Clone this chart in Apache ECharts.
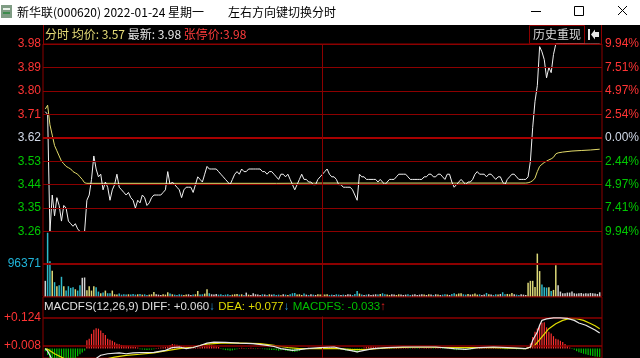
<!DOCTYPE html>
<html><head><meta charset="utf-8">
<script src="https://cdn.jsdelivr.net/npm/echarts@6/dist/echarts.min.js"></script>
<style>html,body{margin:0;padding:0;background:#000;overflow:hidden}#c{width:640px;height:358px}</style>
</head><body><div id="c"></div>
<script>
// ---------------- data ----------------
const titleText = '新华联(000620) 2022-01-24 星期一';
const hintText = '左右方向键切换分时';
const prevClose = 3.62;
const avgLast = '3.57', lastPrice = '3.98', limitUp = '3.98';
const priceTicks = [3.98, 3.89, 3.80, 3.71, 3.62, 3.53, 3.44, 3.35, 3.26];
const pctLabels = ['9.94%', '7.51%', '4.97%', '2.54%', '0.00%', '2.44%', '4.97%', '7.41%', '9.94%'];
const midMinute = 120;

// minute close price, 241 minutes (09:30 .. 15:00)
const price = [
  3.72,3.71,3.26,3.40,3.32,3.39,3.36,3.30,3.36,3.35,
  3.30,3.29,3.28,3.29,3.27,3.26,3.26,3.26,3.38,3.40,
  3.46,3.55,3.50,3.47,3.48,3.42,3.45,3.43,3.38,3.42,
  3.44,3.48,3.43,3.42,3.41,3.40,3.41,3.39,3.38,3.35,
  3.38,3.37,3.40,3.39,3.36,3.37,3.39,3.40,3.40,3.40,
  3.40,3.41,3.42,3.49,3.44,3.45,3.44,3.43,3.42,3.39,
  3.42,3.43,3.43,3.43,3.41,3.44,3.47,3.46,3.45,3.48,
  3.51,3.50,3.50,3.50,3.50,3.49,3.48,3.47,3.46,3.45,
  3.44,3.46,3.48,3.49,3.48,3.50,3.49,3.49,3.50,3.50,
  3.50,3.50,3.50,3.50,3.49,3.49,3.48,3.49,3.49,3.48,
  3.47,3.46,3.48,3.48,3.47,3.48,3.46,3.44,3.42,3.44,
  3.46,3.48,3.46,3.46,3.45,3.45,3.44,3.44,3.46,3.47,
  3.48,3.49,3.50,3.48,3.47,3.47,3.46,3.44,3.44,3.43,
  3.43,3.43,3.43,3.42,3.40,3.38,3.48,3.47,3.47,3.46,
  3.46,3.46,3.46,3.46,3.45,3.46,3.45,3.44,3.45,3.46,
  3.46,3.46,3.47,3.48,3.48,3.48,3.48,3.47,3.46,3.46,
  3.46,3.46,3.46,3.46,3.47,3.47,3.48,3.48,3.47,3.47,
  3.48,3.48,3.47,3.46,3.48,3.48,3.45,3.43,3.44,3.45,
  3.46,3.45,3.44,3.45,3.45,3.46,3.48,3.49,3.48,3.48,
  3.48,3.47,3.48,3.48,3.47,3.46,3.47,3.47,3.45,3.44,
  3.46,3.47,3.48,3.48,3.47,3.46,3.46,3.46,3.46,3.47,
  3.53,3.66,3.76,3.82,3.97,3.95,3.92,3.85,3.89,3.87,
  3.94,3.98,3.98,3.98,3.98,3.98,3.98,3.98,3.98,3.98,
  3.98,3.98,3.98,3.98,3.98,3.98,3.98,3.98,3.98,3.98,
  3.98
];

// average price line (key minutes)
const avgMinutes = [0,1,2,3,4,5,6,7,8,9,10,11,12,13,14,15,16,17,18,100,120,208,209,210,211,212,213,214,215,216,217,218,219,220,221,222,224,228,232,236,240];
const avgValues  = [3.73,3.745,3.67,3.63,3.59,3.57,3.55,3.53,3.52,3.51,3.505,3.50,3.49,3.485,3.48,3.47,3.46,3.447,3.445,3.445,3.446,3.446,3.447,3.45,3.455,3.465,3.49,3.51,3.518,3.525,3.53,3.535,3.539,3.545,3.558,3.562,3.565,3.569,3.571,3.573,3.576];

// volume per minute
const volumeTick = 96371;
const volume = [
  46000,189000,104000,76000,42000,30000,33000,58000,30000,17000,
  30000,25000,27000,21000,17000,33000,55000,56000,18000,30000,
  17000,30000,27000,14000,9000,11000,17000,9000,9000,17000,
  6000,5000,8000,5000,6000,5000,6000,5000,7000,5000,
  6000,7000,5000,6000,4000,5000,6000,13000,6000,5000,
  4000,6000,5000,12000,8000,6000,5000,4000,6000,5000,
  4000,5000,6000,4000,5000,6000,16000,5000,6000,8000,
  21000,9000,6000,5000,7000,5000,6000,4000,5000,6000,
  4000,5000,6000,7000,5000,6000,4000,11000,5000,4000,
  9000,6000,5000,4000,6000,5000,4000,6000,5000,6000,
  4000,5000,3000,6000,5000,4000,6000,9000,10000,5000,
  6000,4000,8000,5000,4000,6000,5000,4000,6000,5000,
  6000,5000,6000,4000,5000,4000,6000,5000,4000,5000,
  4000,6000,5000,4000,7000,16000,8000,5000,4000,5000,
  6000,4000,5000,6000,5000,7000,9000,6000,5000,4000,
  6000,5000,4000,6000,5000,4000,5000,6000,4000,5000,
  6000,4000,5000,6000,5000,4000,6000,5000,4000,6000,
  5000,4000,5000,6000,5000,4000,7000,9000,6000,8000,
  9000,6000,5000,7000,5000,6000,8000,5000,6000,4000,
  5000,10000,6000,5000,4000,6000,5000,7000,12000,6000,
  7000,6000,10000,6000,5000,4000,6000,5000,4000,40000,
  46000,46000,28000,127000,75000,35000,27000,26000,27000,16000,
  19000,92000,33000,14000,9000,9000,11000,11000,14000,9000,
  8000,9000,10000,8000,9000,8000,10000,9000,8000,7000,
  12000
];

// MACD (12,26,9)
const macdTicks = ['+0.124', '+0.008'];
const macdTickValues = [0.124, 0.008];
const macdReadout = { diff: '+0.060', dea: '+0.077', hist: '-0.033' };
const macdHist = [
  -0.010,-0.025,-0.040,-0.050,-0.055,-0.060,-0.060,-0.058,-0.055,-0.052,
  -0.050,-0.048,-0.045,-0.042,-0.030,-0.022,-0.015,-0.008,0.032,0.038,
  0.057,0.073,0.079,0.077,0.070,0.060,0.052,0.038,0.034,0.030,
  0.024,0.019,0.017,0.014,0.012,0.011,0.010,0.008,0.007,0.006,
  0.004,-0.003,-0.004,-0.005,-0.006,-0.005,-0.004,-0.003,0.002,0.003,
  0.004,0.005,0.006,0.008,0.014,0.018,0.016,0.015,0.012,0.010,
  0.009,0.007,0.006,0.004,0.003,0.003,0.004,0.005,0.008,0.010,
  0.014,0.015,0.014,0.011,0.009,0.006,-0.002,-0.004,-0.006,-0.007,
  -0.008,-0.007,-0.005,-0.003,0.002,0.003,0.002,-0.002,0.002,0.003,
  0.002,-0.002,0.002,0.001,-0.002,-0.003,-0.004,-0.005,-0.006,-0.006,
  -0.007,-0.008,-0.007,-0.006,-0.008,-0.009,-0.010,-0.012,-0.013,-0.011,
  -0.009,-0.006,-0.004,0.002,0.003,0.002,-0.002,0.002,0.003,0.004,
  0.005,0.006,0.007,0.006,0.005,0.004,0.002,-0.003,-0.005,-0.006,
  -0.007,-0.008,-0.009,-0.011,-0.013,-0.015,-0.008,-0.003,0.004,0.007,
  0.008,0.009,0.008,0.007,0.005,0.002,-0.002,0.002,0.003,0.002,
  -0.002,0.002,0.003,0.004,0.004,0.003,0.002,0.002,-0.002,0.002,
  0.002,-0.002,0.002,0.001,0.002,0.003,0.003,0.002,-0.002,0.002,
  0.002,0.002,-0.002,-0.002,0.002,0.002,-0.003,-0.005,-0.006,-0.006,
  -0.005,-0.006,-0.006,-0.005,-0.004,-0.003,-0.002,0.002,0.003,0.002,
  0.002,0.002,0.003,0.003,0.004,0.003,0.002,0.002,-0.002,-0.003,
  -0.003,-0.002,-0.002,-0.002,-0.003,-0.003,-0.003,-0.003,-0.002,0.005,
  0.020,0.045,0.065,0.078,0.092,0.100,0.102,0.082,0.065,0.058,
  0.048,0.038,0.035,0.030,0.025,0.018,0.010,0.004,-0.002,-0.005,
  -0.010,-0.014,-0.017,-0.020,-0.022,-0.025,-0.027,-0.029,-0.031,-0.032,
  -0.033
];
const diffMinutes = [0,1,2,3,5,9,14,18,20,22,24,27,32,35,38,41,47,52,55,58,61,64,67,70,73,78,84,90,96,99,102,107,110,113,119,125,128,130,133,135,138,142,148,155,169,177,182,188,194,200,208,210,211,213,214,215,217,220,223,226,229,231,234,238,240];
const diffValues  = [0,-0.010,-0.026,-0.045,-0.065,-0.080,-0.080,-0.065,-0.050,-0.038,-0.026,-0.020,-0.017,-0.020,-0.017,-0.016,-0.015,-0.007,0.004,0.006,0,0.004,0.012,0.021,0.025,0.024,0.021,0.019,0.012,0.008,0,-0.007,-0.004,0,0.004,0.006,0,-0.004,-0.009,-0.013,-0.007,0,0.004,0.006,0.006,0,-0.003,0.004,0.006,0.004,0,0.006,0.032,0.064,0.090,0.109,0.115,0.119,0.119,0.117,0.109,0.099,0.090,0.072,0.060];
const deaMinutes = [0,1,2,4,8,14,20,24,26,30,35,41,47,52,58,64,70,76,84,93,99,105,110,119,127,133,138,148,162,177,194,208,212,215,218,221,224,227,230,233,236,238,240];
const deaValues  = [0,-0.003,-0.008,-0.020,-0.038,-0.050,-0.052,-0.046,-0.041,-0.033,-0.026,-0.022,-0.017,-0.009,0,0.006,0.017,0.021,0.021,0.019,0.012,0.004,0,0,0,-0.004,-0.004,0.003,0.006,0.004,0.004,0,0.013,0.045,0.077,0.096,0.109,0.117,0.116,0.109,0.097,0.088,0.077];

// ---------------- styles ----------------
const GRID = '#8c0000', UP = '#ff3434', DOWN = '#00c800', EVEN = '#d0d8e6';
const FONT = '"Liberation Sans", Arial, "Noto Sans CJK SC", sans-serif';
const CJK = '"Noto Sans CJK SC", "Liberation Sans", sans-serif';
const VOL_UP = '#dcd878', VOL_DN = '#2fb8c8', VOL_EQ = '#d0d0d0';

const pricePts = price.map((v, i) => [i, v]);
const avgPts = avgMinutes.map((m, i) => [m, avgValues[i]]);
const volPts = volume.map((v, i) => {
  const d = i === 0 ? 0 : price[i] - price[i - 1];
  return { value: [i, v], itemStyle: { color: d > 1e-9 ? VOL_UP : (d < -1e-9 ? VOL_DN : VOL_EQ) } };
});
const histPts = macdHist.map((v, i) => ({ value: [i, v], itemStyle: { color: v >= 0 ? '#ff3030' : '#00c000' } }));
const diffPts = diffMinutes.map((m, i) => [m, diffValues[i]]);
const deaPts = deaMinutes.map((m, i) => [m, deaValues[i]]);

const tickColor = v => Math.abs(v - prevClose) < 1e-6 ? EVEN : (v > prevClose ? UP : DOWN);

const chart = echarts.init(document.getElementById('c'), null, { renderer: 'canvas' });
const xAx = idx => ({ type: 'value', gridIndex: idx, min: -1, max: 241, show: false });
const ML = (data) => ({ silent: true, symbol: ['none', 'none'], animation: false, data });

chart.setOption({
  backgroundColor: '#000',
  animation: false,
  grid: [
    { left: 43, top: 44, width: 559, height: 187.5, show: true, borderColor: GRID, borderWidth: 1 },
    { left: 43, top: 231.5, width: 559, height: 64.8, show: true, borderColor: GRID, borderWidth: 1 },
    { left: 43, top: 297, width: 559, bottom: 0, show: true, borderColor: GRID, borderWidth: 1 }
  ],
  xAxis: [xAx(0), xAx(1), xAx(2)],
  yAxis: [
    { type: 'value', gridIndex: 0, min: priceTicks[priceTicks.length - 1], max: priceTicks[0], show: false },
    { type: 'value', gridIndex: 1, min: 0, max: volumeTick * 2, show: false },
    { type: 'value', gridIndex: 2, min: -0.0365, max: 0.1994, show: false }
  ],
  series: [
    { // price grid lines + left labels
      type: 'line', xAxisIndex: 0, yAxisIndex: 0, data: [], z: 1,
      markLine: ML(priceTicks.map(v => ({
        yAxis: v,
        lineStyle: { color: Math.abs(v - prevClose) < 1e-6 ? '#a80000' : GRID, width: Math.abs(v - prevClose) < 1e-6 ? 2 : 1, type: 'solid' },
        label: { show: true, position: 'start', distance: 2, formatter: v.toFixed(2), color: tickColor(v), fontSize: 12, fontFamily: FONT }
      })).concat([{ xAxis: midMinute, lineStyle: { color: GRID, width: 1, type: 'solid' }, label: { show: false } }]))
    },
    { // right percent labels
      type: 'line', xAxisIndex: 0, yAxisIndex: 0, data: [], z: 1,
      markLine: ML(priceTicks.map((v, i) => ({
        yAxis: v,
        lineStyle: { color: 'rgba(0,0,0,0)', width: 1, type: 'solid' },
        label: { show: true, position: 'end', distance: 3, formatter: pctLabels[i], color: tickColor(v), fontSize: 12, fontFamily: FONT }
      })))
    },
    { type: 'line', name: '均价', xAxisIndex: 0, yAxisIndex: 0, data: avgPts, showSymbol: false, z: 3,
      lineStyle: { color: '#e4dc6a', width: 1 } },
    { type: 'line', name: '价格', xAxisIndex: 0, yAxisIndex: 0, data: pricePts, showSymbol: false, z: 4,
      lineStyle: { color: '#f2f2f2', width: 1 } },
    { type: 'bar', name: '成交量', xAxisIndex: 1, yAxisIndex: 1, data: volPts, barWidth: 1.5, z: 3,
      markLine: ML([
        { yAxis: volumeTick, lineStyle: { color: GRID, width: 2, type: 'solid' },
          label: { show: true, position: 'start', distance: 2, formatter: String(volumeTick), color: '#20b4d8', fontSize: 12, fontFamily: FONT } },
        { xAxis: midMinute, lineStyle: { color: GRID, width: 1, type: 'solid' }, label: { show: false } }
      ]) },
    { type: 'bar', name: 'MACDFS', xAxisIndex: 2, yAxisIndex: 2, data: histPts, barWidth: 1.2, z: 3,
      markLine: ML(macdTickValues.map((v, i) => ({
        yAxis: v, lineStyle: { color: GRID, width: 1.5, type: 'solid' },
        label: { show: true, position: 'start', distance: 2, formatter: macdTicks[i], color: UP, fontSize: 12, fontFamily: FONT }
      })).concat([[{ coord: [midMinute, macdTickValues[0]], lineStyle: { color: GRID, width: 1, type: 'solid' }, label: { show: false } }, { coord: [midMinute, -0.0365] }]])) },
    { type: 'line', name: 'DEA', xAxisIndex: 2, yAxisIndex: 2, data: deaPts, showSymbol: false, z: 4,
      lineStyle: { color: '#e0dc00', width: 1.2 } },
    { type: 'line', name: 'DIFF', xAxisIndex: 2, yAxisIndex: 2, data: diffPts, showSymbol: false, z: 5,
      lineStyle: { color: '#e8e8e8', width: 1.2 } }
  ],
  graphic: [
    { type: 'rect', shape: { x: 0, y: 0, width: 640, height: 25 }, style: { fill: '#ffffff' }, silent: true },
    { type: 'rect', shape: { x: 1, y: 5, width: 11, height: 13 }, style: { fill: '#7f9c84' }, silent: true },
    { type: 'rect', shape: { x: 3, y: 8, width: 7, height: 2 }, style: { fill: '#e8f0e8' }, silent: true },
    { type: 'rect', shape: { x: 3, y: 12, width: 7, height: 2 }, style: { fill: '#3c8c4c' }, silent: true },
    { type: 'text', x: 17, y: 12, style: { text: titleText, fill: '#000', fontSize: 12, fontFamily: CJK, verticalAlign: 'middle' }, silent: true },
    { type: 'text', x: 228, y: 12, style: { text: hintText, fill: '#000', fontSize: 12, fontFamily: CJK, verticalAlign: 'middle' }, silent: true },
    { type: 'line', shape: { x1: 531, y1: 11.5, x2: 541, y2: 11.5 }, style: { stroke: '#000', lineWidth: 1 }, silent: true },
    { type: 'rect', shape: { x: 574.5, y: 6.5, width: 9, height: 9 }, style: { fill: 'none', stroke: '#000', lineWidth: 1 }, silent: true },
    { type: 'line', shape: { x1: 618, y1: 6, x2: 627, y2: 15 }, style: { stroke: '#000', lineWidth: 1 }, silent: true },
    { type: 'line', shape: { x1: 627, y1: 6, x2: 618, y2: 15 }, style: { stroke: '#000', lineWidth: 1 }, silent: true },
    { type: 'line', shape: { x1: 43.5, y1: 25, x2: 43.5, y2: 44 }, style: { stroke: GRID, lineWidth: 1 }, silent: true },
    { type: 'line', shape: { x1: 601.5, y1: 25, x2: 601.5, y2: 44 }, style: { stroke: GRID, lineWidth: 1 }, silent: true },
    { type: 'text', x: 45, y: 34.5, silent: true, style: {
        text: '{k|分时} {y|均价: ' + avgLast + '} {w|最新: ' + lastPrice + '} {r|张停价:' + limitUp + '}',
        fontSize: 12, fontFamily: CJK, verticalAlign: 'middle',
        rich: {
          k: { fill: '#e6dc78', fontSize: 12, fontFamily: CJK },
          y: { fill: '#e6dc78', fontSize: 12, fontFamily: CJK },
          w: { fill: '#e8e8e8', fontSize: 12, fontFamily: CJK },
          r: { fill: '#ff3c3c', fontSize: 12, fontFamily: CJK }
        } } },
    { type: 'rect', shape: { x: 529.5, y: 25.5, width: 55, height: 18 }, style: { fill: 'none', stroke: GRID, lineWidth: 1 }, silent: true },
    { type: 'text', x: 557, y: 34.5, silent: true, style: { text: '历史重现', fill: '#d8d8d8', fontSize: 12, fontFamily: CJK, align: 'center', verticalAlign: 'middle' } },
    { type: 'rect', shape: { x: 588, y: 29, width: 2, height: 11 }, style: { fill: '#e8e8e8' }, silent: true },
    { type: 'polygon', shape: { points: [[591, 34.5], [595, 29.5], [595, 32], [599, 32], [599, 37], [595, 37], [595, 39.5]] }, style: { fill: '#e8e8e8' }, silent: true },
    { type: 'text', x: 44, y: 306.5, silent: true, style: {
        text: '{w|MACDFS(12,26,9) DIFF: ' + macdReadout.diff + '}{b|↓}{y| DEA: ' + macdReadout.dea + '}{b|↓}{g| MACDFS: ' + macdReadout.hist + '}{r|↑}',
        fontSize: 11.5, fontFamily: FONT, verticalAlign: 'middle',
        rich: {
          w: { fill: '#e0e0e0', fontSize: 11.5, fontFamily: FONT },
          y: { fill: '#e0dc00', fontSize: 11.5, fontFamily: FONT },
          g: { fill: '#00c000', fontSize: 11.5, fontFamily: FONT },
          b: { fill: '#2a9ee0', fontSize: 11.5, fontFamily: FONT },
          r: { fill: '#e02020', fontSize: 11.5, fontFamily: FONT }
        } } }
  ]
});
</script></body></html>
